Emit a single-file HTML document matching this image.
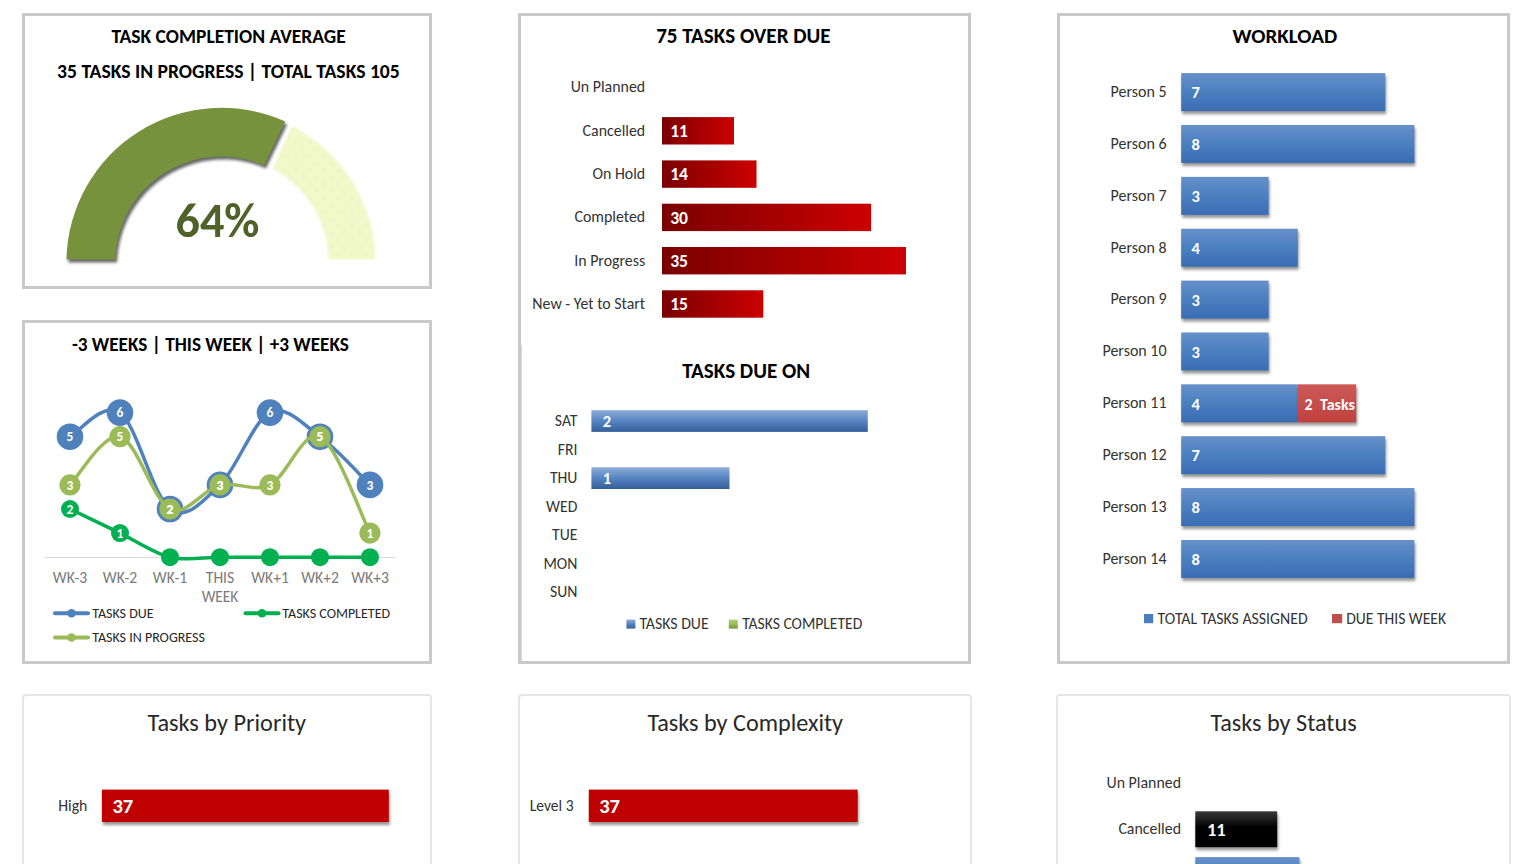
<!DOCTYPE html>
<html><head><meta charset="utf-8"><title>Task Dashboard</title>
<style>
html,body{margin:0;padding:0;background:#fff;width:1536px;height:864px;overflow:hidden}
svg{display:block}
text{font-family:Carlito, 'Liberation Sans', sans-serif}
</style></head><body>
<svg width="1536" height="864" viewBox="0 0 1536 864">
<defs>
<pattern id="dots" x="0" y="0" width="14" height="14" patternUnits="userSpaceOnUse">
 <circle cx="2" cy="2" r="0.6" fill="#c9cf9e"/><circle cx="9" cy="9" r="0.6" fill="#c9cf9e"/>
</pattern>
<linearGradient id="gred" x1="0" y1="0" x2="1" y2="0">
 <stop offset="0" stop-color="#7a0000"/><stop offset="0.15" stop-color="#870000"/><stop offset="1" stop-color="#cc0000"/>
</linearGradient>
<linearGradient id="gblue" x1="0" y1="0" x2="0" y2="1">
 <stop offset="0" stop-color="#6790c9"/><stop offset="0.5" stop-color="#4a7fc0"/><stop offset="1" stop-color="#3a6cb3"/>
</linearGradient>
<linearGradient id="gblue2" x1="0" y1="0" x2="0" y2="1">
 <stop offset="0" stop-color="#8dacd8"/><stop offset="0.5" stop-color="#5584c2"/><stop offset="1" stop-color="#355f9a"/>
</linearGradient>
<linearGradient id="ggreen2" x1="0" y1="0" x2="0" y2="1">
 <stop offset="0" stop-color="#b5cf80"/><stop offset="0.5" stop-color="#9bbb59"/><stop offset="1" stop-color="#76933c"/>
</linearGradient>
<linearGradient id="gred2" x1="0" y1="0" x2="0" y2="1">
 <stop offset="0" stop-color="#cb5a57"/><stop offset="1" stop-color="#c0413e"/>
</linearGradient>
<linearGradient id="gblack" x1="0" y1="0" x2="0" y2="1">
 <stop offset="0" stop-color="#3a3a3a"/><stop offset="0.45" stop-color="#000"/><stop offset="1" stop-color="#000"/>
</linearGradient>
<filter id="soft" x="-5%" y="-5%" width="110%" height="110%"><feGaussianBlur stdDeviation="0.8"/></filter>
<filter id="sh1" x="-10%" y="-10%" width="125%" height="125%" color-interpolation-filters="sRGB">
 <feGaussianBlur in="SourceAlpha" stdDeviation="1.8"/><feOffset dx="1.5" dy="2.5" result="b"/>
 <feComponentTransfer><feFuncA type="linear" slope="0.6"/></feComponentTransfer>
 <feMerge><feMergeNode/><feMergeNode in="SourceGraphic"/></feMerge>
</filter>
<filter id="sh2" x="-10%" y="-20%" width="125%" height="160%" color-interpolation-filters="sRGB">
 <feGaussianBlur in="SourceAlpha" stdDeviation="1.8"/><feOffset dx="1" dy="2.5" result="b"/>
 <feComponentTransfer><feFuncA type="linear" slope="0.42"/></feComponentTransfer>
 <feMerge><feMergeNode/><feMergeNode in="SourceGraphic"/></feMerge>
</filter>
</defs>
<rect x="23.5" y="14.5" width="407" height="273" fill="#fff" stroke="#c9c9c9" stroke-width="3"/>
<rect x="23.5" y="321.5" width="407" height="341" fill="#fff" stroke="#c9c9c9" stroke-width="3"/>
<rect x="519.5" y="14.5" width="450" height="648" fill="#fff" stroke="#c9c9c9" stroke-width="3"/>
<rect x="521" y="345" width="1" height="316" fill="#d6d6d6"/>
<rect x="1058.5" y="14.5" width="450" height="648" fill="#fff" stroke="#c9c9c9" stroke-width="3"/>
<rect x="23" y="695" width="408" height="304" rx="3" fill="#fff" stroke="#e6e6e6" stroke-width="2"/>
<rect x="519" y="695" width="452" height="304" rx="3" fill="#fff" stroke="#e6e6e6" stroke-width="2"/>
<rect x="1057" y="695" width="453" height="304" rx="3" fill="#fff" stroke="#e6e6e6" stroke-width="2"/>
<g filter="url(#soft)"><path d="M292.03,125.95 A154,154 0 0 1 375.36,259.5 L328.65,259.5 A107.3,107.3 0 0 0 272.27,168.32 Z" fill="#f1f8c9"/><path d="M292.03,125.95 A154,154 0 0 1 375.36,259.5 L328.65,259.5 A107.3,107.3 0 0 0 272.27,168.32 Z" fill="url(#dots)"/></g>
<path d="M66.44,259.5 A155,155 0 0 1 285.18,121.53 L263.96,165.39 A106.3,106.3 0 0 0 115.15,259.5 Z" fill="#76923c" filter="url(#sh1)"/>
<line x1="45" y1="557.5" x2="395" y2="557.5" stroke="#d9d9d9" stroke-width="1"/>
<path d="M70,436.7 C78.33,432.68 103.33,400.55 120,412.6 C136.67,424.65 153.33,496.95 170,509 C186.67,521.05 203.33,500.97 220,484.9 C236.67,468.83 253.33,420.63 270,412.6 C286.67,404.57 303.33,424.65 320,436.7 C336.67,448.75 361.67,476.87 370,484.9" fill="none" stroke="#4f81bd" stroke-width="3.5" stroke-linecap="round" stroke-linejoin="round"/>
<circle cx="70" cy="436.7" r="13.3" fill="#4f81bd"/>
<circle cx="120" cy="412.6" r="13.3" fill="#4f81bd"/>
<circle cx="170" cy="509" r="13.3" fill="#4f81bd"/>
<circle cx="220" cy="484.9" r="13.3" fill="#4f81bd"/>
<circle cx="270" cy="412.6" r="13.3" fill="#4f81bd"/>
<circle cx="320" cy="436.7" r="13.3" fill="#4f81bd"/>
<circle cx="370" cy="484.9" r="13.3" fill="#4f81bd"/>
<path d="M70,484.9 C78.33,476.87 103.33,432.68 120,436.7 C136.67,440.72 153.33,500.97 170,509 C186.67,517.03 203.33,488.92 220,484.9 C236.67,480.88 253.33,492.93 270,484.9 C286.67,476.87 303.33,428.67 320,436.7 C336.67,444.73 361.67,517.03 370,533.1" fill="none" stroke="#9bbb59" stroke-width="3.5" stroke-linecap="round" stroke-linejoin="round"/>
<circle cx="70" cy="484.9" r="10.6" fill="#9bbb59"/>
<circle cx="120" cy="436.7" r="10.6" fill="#9bbb59"/>
<circle cx="170" cy="509" r="10.6" fill="#9bbb59"/>
<circle cx="220" cy="484.9" r="10.6" fill="#9bbb59"/>
<circle cx="270" cy="484.9" r="10.6" fill="#9bbb59"/>
<circle cx="320" cy="436.7" r="10.6" fill="#9bbb59"/>
<circle cx="370" cy="533.1" r="10.6" fill="#9bbb59"/>
<path d="M70,509 C78.33,513.02 103.33,525.07 120,533.1 C136.67,541.13 153.33,553.18 170,557.2 C186.67,561.22 203.33,557.2 220,557.2 C236.67,557.2 253.33,557.2 270,557.2 C286.67,557.2 303.33,557.2 320,557.2 C336.67,557.2 361.67,557.2 370,557.2" fill="none" stroke="#00b050" stroke-width="3.5" stroke-linecap="round" stroke-linejoin="round"/>
<circle cx="70" cy="509" r="9" fill="#00b050"/>
<circle cx="120" cy="533.1" r="9" fill="#00b050"/>
<circle cx="170" cy="557.2" r="9" fill="#00b050"/>
<circle cx="220" cy="557.2" r="9" fill="#00b050"/>
<circle cx="270" cy="557.2" r="9" fill="#00b050"/>
<circle cx="320" cy="557.2" r="9" fill="#00b050"/>
<circle cx="370" cy="557.2" r="9" fill="#00b050"/>
<line x1="55" y1="613.2" x2="88" y2="613.2" stroke="#4f81bd" stroke-width="4" stroke-linecap="round"/>
<circle cx="71.5" cy="613.2" r="4.3" fill="#4f81bd"/>
<line x1="245.5" y1="613.2" x2="278.5" y2="613.2" stroke="#00b050" stroke-width="4" stroke-linecap="round"/>
<circle cx="262.0" cy="613.2" r="4.3" fill="#00b050"/>
<line x1="55" y1="637.5" x2="88" y2="637.5" stroke="#9bbb59" stroke-width="4" stroke-linecap="round"/>
<circle cx="71.5" cy="637.5" r="4.3" fill="#9bbb59"/>
<rect x="662" y="117.1" width="72" height="27.4" fill="url(#gred)"/>
<rect x="662" y="160.4" width="94.5" height="27.4" fill="url(#gred)"/>
<rect x="662" y="203.7" width="209.1" height="27.4" fill="url(#gred)"/>
<rect x="662" y="247" width="244" height="27.4" fill="url(#gred)"/>
<rect x="662" y="290.3" width="101.3" height="27.4" fill="url(#gred)"/>
<rect x="591.4" y="410.2" width="276.4" height="21.7" fill="url(#gblue2)"/>
<rect x="591.4" y="467.3" width="138.1" height="21.7" fill="url(#gblue2)"/>
<rect x="626.4" y="619.6" width="9" height="9" fill="url(#gblue2)"/>
<rect x="728.8" y="619.6" width="9" height="9" fill="url(#ggreen2)"/>
<rect x="1181.2" y="73.1" width="204.05" height="38" fill="url(#gblue)" filter="url(#sh2)"/>
<rect x="1181.2" y="124.97" width="233.2" height="38" fill="url(#gblue)" filter="url(#sh2)"/>
<rect x="1181.2" y="176.84" width="87.45" height="38" fill="url(#gblue)" filter="url(#sh2)"/>
<rect x="1181.2" y="228.71" width="116.6" height="38" fill="url(#gblue)" filter="url(#sh2)"/>
<rect x="1181.2" y="280.58" width="87.45" height="38" fill="url(#gblue)" filter="url(#sh2)"/>
<rect x="1181.2" y="332.45" width="87.45" height="38" fill="url(#gblue)" filter="url(#sh2)"/>
<rect x="1181.2" y="384.32" width="116.6" height="38" fill="url(#gblue)" filter="url(#sh2)"/>
<rect x="1297.7" y="384.32" width="58.5" height="38" fill="url(#gred2)" filter="url(#sh2)"/>
<rect x="1181.2" y="436.19" width="204.05" height="38" fill="url(#gblue)" filter="url(#sh2)"/>
<rect x="1181.2" y="488.06" width="233.2" height="38" fill="url(#gblue)" filter="url(#sh2)"/>
<rect x="1181.2" y="539.93" width="233.2" height="38" fill="url(#gblue)" filter="url(#sh2)"/>
<rect x="1144" y="614" width="9.2" height="9.2" fill="#4a7ebf"/>
<rect x="1332" y="614" width="10.2" height="9.2" fill="#c0504d"/>
<rect x="101.9" y="789.6" width="286.9" height="32.4" fill="#c00000" filter="url(#sh2)"/>
<rect x="588.8" y="789.6" width="268.9" height="32.4" fill="#c00000" filter="url(#sh2)"/>
<rect x="1195.3" y="811.3" width="81.9" height="35.9" fill="url(#gblack)" filter="url(#sh2)"/>
<rect x="1195.3" y="857.1" width="104.1" height="40" fill="url(#gblue)" filter="url(#sh2)"/>
<text x="217.5" y="236.5" font-size="48.2" font-weight="700" text-anchor="middle" fill="#4f6228" textLength="83.98" lengthAdjust="spacingAndGlyphs" id="t0">64%</text>
<text x="228.6" y="43.2" font-size="19.5" font-weight="700" text-anchor="middle" fill="#000" textLength="234.42" lengthAdjust="spacingAndGlyphs" id="t1">TASK COMPLETION AVERAGE</text>
<text x="228.4" y="77.6" font-size="19.6" font-weight="700" text-anchor="middle" fill="#000" textLength="342.59" lengthAdjust="spacingAndGlyphs" id="t2">35 TASKS IN PROGRESS | TOTAL TASKS 105</text>
<text x="210.4" y="350.8" font-size="19.2" font-weight="700" text-anchor="middle" fill="#000" textLength="276.94" lengthAdjust="spacingAndGlyphs" id="t3">-3 WEEKS | THIS WEEK | +3 WEEKS</text>
<text x="70" y="441.3" font-size="13.5" font-weight="700" text-anchor="middle" fill="#fff" textLength="6.84" lengthAdjust="spacingAndGlyphs" id="t4">5</text>
<text x="120" y="417.2" font-size="13.5" font-weight="700" text-anchor="middle" fill="#fff" textLength="6.84" lengthAdjust="spacingAndGlyphs" id="t5">6</text>
<text x="170" y="513.6" font-size="13.5" font-weight="700" text-anchor="middle" fill="#fff" textLength="6.84" lengthAdjust="spacingAndGlyphs" id="t6">2</text>
<text x="220" y="489.5" font-size="13.5" font-weight="700" text-anchor="middle" fill="#fff" textLength="6.84" lengthAdjust="spacingAndGlyphs" id="t7">3</text>
<text x="270" y="417.2" font-size="13.5" font-weight="700" text-anchor="middle" fill="#fff" textLength="6.84" lengthAdjust="spacingAndGlyphs" id="t8">6</text>
<text x="320" y="441.3" font-size="13.5" font-weight="700" text-anchor="middle" fill="#fff" textLength="6.84" lengthAdjust="spacingAndGlyphs" id="t9">5</text>
<text x="370" y="489.5" font-size="13.5" font-weight="700" text-anchor="middle" fill="#fff" textLength="6.84" lengthAdjust="spacingAndGlyphs" id="t10">3</text>
<text x="70" y="489.5" font-size="13.5" font-weight="700" text-anchor="middle" fill="#fff" textLength="6.84" lengthAdjust="spacingAndGlyphs" id="t11">3</text>
<text x="120" y="441.3" font-size="13.5" font-weight="700" text-anchor="middle" fill="#fff" textLength="6.84" lengthAdjust="spacingAndGlyphs" id="t12">5</text>
<text x="170" y="513.6" font-size="13.5" font-weight="700" text-anchor="middle" fill="#fff" textLength="6.84" lengthAdjust="spacingAndGlyphs" id="t13">2</text>
<text x="220" y="489.5" font-size="13.5" font-weight="700" text-anchor="middle" fill="#fff" textLength="6.84" lengthAdjust="spacingAndGlyphs" id="t14">3</text>
<text x="270" y="489.5" font-size="13.5" font-weight="700" text-anchor="middle" fill="#fff" textLength="6.84" lengthAdjust="spacingAndGlyphs" id="t15">3</text>
<text x="320" y="441.3" font-size="13.5" font-weight="700" text-anchor="middle" fill="#fff" textLength="6.84" lengthAdjust="spacingAndGlyphs" id="t16">5</text>
<text x="370" y="537.7" font-size="13.5" font-weight="700" text-anchor="middle" fill="#fff" textLength="6.84" lengthAdjust="spacingAndGlyphs" id="t17">1</text>
<text x="70" y="513.6" font-size="13.5" font-weight="700" text-anchor="middle" fill="#fff" textLength="6.84" lengthAdjust="spacingAndGlyphs" id="t18">2</text>
<text x="120" y="537.7" font-size="13.5" font-weight="700" text-anchor="middle" fill="#fff" textLength="6.84" lengthAdjust="spacingAndGlyphs" id="t19">1</text>
<text x="70" y="582.7" font-size="15.6" text-anchor="middle" fill="#7a7a7a" textLength="34.41" lengthAdjust="spacingAndGlyphs" id="t20">WK-3</text>
<text x="120" y="582.7" font-size="15.6" text-anchor="middle" fill="#7a7a7a" textLength="34.41" lengthAdjust="spacingAndGlyphs" id="t21">WK-2</text>
<text x="170" y="582.7" font-size="15.6" text-anchor="middle" fill="#7a7a7a" textLength="34.41" lengthAdjust="spacingAndGlyphs" id="t22">WK-1</text>
<text x="220" y="582.7" font-size="15.6" text-anchor="middle" fill="#7a7a7a" textLength="28.42" lengthAdjust="spacingAndGlyphs" id="t23">THIS</text>
<text x="270" y="582.7" font-size="15.6" text-anchor="middle" fill="#7a7a7a" textLength="37.66" lengthAdjust="spacingAndGlyphs" id="t24">WK+1</text>
<text x="320" y="582.7" font-size="15.6" text-anchor="middle" fill="#7a7a7a" textLength="37.66" lengthAdjust="spacingAndGlyphs" id="t25">WK+2</text>
<text x="370" y="582.7" font-size="15.6" text-anchor="middle" fill="#7a7a7a" textLength="37.66" lengthAdjust="spacingAndGlyphs" id="t26">WK+3</text>
<text x="220" y="601.7" font-size="15.4" text-anchor="middle" fill="#7a7a7a" textLength="36.72" lengthAdjust="spacingAndGlyphs" id="t27">WEEK</text>
<text x="92.2" y="617.6" font-size="14.0" fill="#262626" textLength="61.45" lengthAdjust="spacingAndGlyphs" id="t28">TASKS DUE</text>
<text x="282.3" y="617.6" font-size="14.0" fill="#262626" textLength="107.83" lengthAdjust="spacingAndGlyphs" id="t29">TASKS COMPLETED</text>
<text x="92.2" y="641.8" font-size="14.0" fill="#262626" textLength="112.72" lengthAdjust="spacingAndGlyphs" id="t30">TASKS IN PROGRESS</text>
<text x="743.4" y="42.8" font-size="21.1" font-weight="700" text-anchor="middle" fill="#000" textLength="174.48" lengthAdjust="spacingAndGlyphs" id="t31">75 TASKS OVER DUE</text>
<text x="645.2" y="92.4" font-size="15.9" text-anchor="end" fill="#333" textLength="74.56" lengthAdjust="spacingAndGlyphs" id="t32">Un Planned</text>
<text x="645.2" y="135.7" font-size="15.9" text-anchor="end" fill="#333" textLength="62.61" lengthAdjust="spacingAndGlyphs" id="t33">Cancelled</text>
<text x="670.2" y="136.9" font-size="17.6" font-weight="700" fill="#fff" textLength="17.84" lengthAdjust="spacingAndGlyphs" id="t34">11</text>
<text x="645.2" y="179" font-size="15.9" text-anchor="end" fill="#333" textLength="52.75" lengthAdjust="spacingAndGlyphs" id="t35">On Hold</text>
<text x="670.2" y="180.2" font-size="17.6" font-weight="700" fill="#fff" textLength="17.84" lengthAdjust="spacingAndGlyphs" id="t36">14</text>
<text x="645.2" y="222.3" font-size="15.9" text-anchor="end" fill="#333" textLength="70.78" lengthAdjust="spacingAndGlyphs" id="t37">Completed</text>
<text x="670.2" y="223.5" font-size="17.6" font-weight="700" fill="#fff" textLength="17.84" lengthAdjust="spacingAndGlyphs" id="t38">30</text>
<text x="645.2" y="265.6" font-size="15.9" text-anchor="end" fill="#333" textLength="70.97" lengthAdjust="spacingAndGlyphs" id="t39">In Progress</text>
<text x="670.2" y="266.8" font-size="17.6" font-weight="700" fill="#fff" textLength="17.84" lengthAdjust="spacingAndGlyphs" id="t40">35</text>
<text x="645.2" y="308.9" font-size="15.9" text-anchor="end" fill="#333" textLength="112.89" lengthAdjust="spacingAndGlyphs" id="t41">New - Yet to Start</text>
<text x="670.2" y="310.1" font-size="17.6" font-weight="700" fill="#fff" textLength="17.84" lengthAdjust="spacingAndGlyphs" id="t42">15</text>
<text x="746.2" y="378.2" font-size="21.1" font-weight="700" text-anchor="middle" fill="#000" textLength="127.95" lengthAdjust="spacingAndGlyphs" id="t43">TASKS DUE ON</text>
<text x="577.4" y="425.95" font-size="15.7" text-anchor="end" fill="#333" textLength="22.59" lengthAdjust="spacingAndGlyphs" id="t44">SAT</text>
<text x="602.8" y="426.65" font-size="16.5" font-weight="700" fill="#fff" textLength="8.38" lengthAdjust="spacingAndGlyphs" id="t45">2</text>
<text x="577.4" y="454.5" font-size="15.7" text-anchor="end" fill="#333" textLength="19.69" lengthAdjust="spacingAndGlyphs" id="t46">FRI</text>
<text x="577.4" y="483.05" font-size="15.7" text-anchor="end" fill="#333" textLength="27.48" lengthAdjust="spacingAndGlyphs" id="t47">THU</text>
<text x="602.8" y="483.75" font-size="16.5" font-weight="700" fill="#fff" textLength="8.38" lengthAdjust="spacingAndGlyphs" id="t48">1</text>
<text x="577.4" y="511.6" font-size="15.7" text-anchor="end" fill="#333" textLength="31.28" lengthAdjust="spacingAndGlyphs" id="t49">WED</text>
<text x="577.4" y="540.15" font-size="15.7" text-anchor="end" fill="#333" textLength="25.38" lengthAdjust="spacingAndGlyphs" id="t50">TUE</text>
<text x="577.4" y="568.7" font-size="15.7" text-anchor="end" fill="#333" textLength="33.94" lengthAdjust="spacingAndGlyphs" id="t51">MON</text>
<text x="577.4" y="597.25" font-size="15.7" text-anchor="end" fill="#333" textLength="27.41" lengthAdjust="spacingAndGlyphs" id="t52">SUN</text>
<text x="639.4" y="629" font-size="15.8" fill="#333" textLength="69.33" lengthAdjust="spacingAndGlyphs" id="t53">TASKS DUE</text>
<text x="742.2" y="629" font-size="15.6" fill="#333" textLength="120.09" lengthAdjust="spacingAndGlyphs" id="t54">TASKS COMPLETED</text>
<text x="1284.8" y="42.7" font-size="21.0" font-weight="700" text-anchor="middle" fill="#000" textLength="104.67" lengthAdjust="spacingAndGlyphs" id="t55">WORKLOAD</text>
<text x="1166.6" y="97" font-size="16.0" text-anchor="end" fill="#333" textLength="56.05" lengthAdjust="spacingAndGlyphs" id="t56">Person 5</text>
<text x="1191.6" y="98.3" font-size="16.5" font-weight="700" fill="#fff" textLength="8.38" lengthAdjust="spacingAndGlyphs" id="t57">7</text>
<text x="1166.6" y="148.87" font-size="16.0" text-anchor="end" fill="#333" textLength="56.05" lengthAdjust="spacingAndGlyphs" id="t58">Person 6</text>
<text x="1191.6" y="150.17" font-size="16.5" font-weight="700" fill="#fff" textLength="8.38" lengthAdjust="spacingAndGlyphs" id="t59">8</text>
<text x="1166.6" y="200.74" font-size="16.0" text-anchor="end" fill="#333" textLength="56.05" lengthAdjust="spacingAndGlyphs" id="t60">Person 7</text>
<text x="1191.6" y="202.04" font-size="16.5" font-weight="700" fill="#fff" textLength="8.38" lengthAdjust="spacingAndGlyphs" id="t61">3</text>
<text x="1166.6" y="252.61" font-size="16.0" text-anchor="end" fill="#333" textLength="56.05" lengthAdjust="spacingAndGlyphs" id="t62">Person 8</text>
<text x="1191.6" y="253.91" font-size="16.5" font-weight="700" fill="#fff" textLength="8.38" lengthAdjust="spacingAndGlyphs" id="t63">4</text>
<text x="1166.6" y="304.48" font-size="16.0" text-anchor="end" fill="#333" textLength="56.05" lengthAdjust="spacingAndGlyphs" id="t64">Person 9</text>
<text x="1191.6" y="305.78" font-size="16.5" font-weight="700" fill="#fff" textLength="8.38" lengthAdjust="spacingAndGlyphs" id="t65">3</text>
<text x="1166.6" y="356.35" font-size="16.0" text-anchor="end" fill="#333" textLength="64.16" lengthAdjust="spacingAndGlyphs" id="t66">Person 10</text>
<text x="1191.6" y="357.65" font-size="16.5" font-weight="700" fill="#fff" textLength="8.38" lengthAdjust="spacingAndGlyphs" id="t67">3</text>
<text x="1166.6" y="408.22" font-size="16.0" text-anchor="end" fill="#333" textLength="64.16" lengthAdjust="spacingAndGlyphs" id="t68">Person 11</text>
<text x="1191.6" y="409.52" font-size="16.5" font-weight="700" fill="#fff" textLength="8.38" lengthAdjust="spacingAndGlyphs" id="t69">4</text>
<text x="1304.6" y="409.52" font-size="16.0" font-weight="700" fill="#fff" textLength="50.27" lengthAdjust="spacingAndGlyphs" xml:space="preserve" id="t70">2  Tasks</text>
<text x="1166.6" y="460.09" font-size="16.0" text-anchor="end" fill="#333" textLength="64.16" lengthAdjust="spacingAndGlyphs" id="t71">Person 12</text>
<text x="1191.6" y="461.39" font-size="16.5" font-weight="700" fill="#fff" textLength="8.38" lengthAdjust="spacingAndGlyphs" id="t72">7</text>
<text x="1166.6" y="511.96" font-size="16.0" text-anchor="end" fill="#333" textLength="64.16" lengthAdjust="spacingAndGlyphs" id="t73">Person 13</text>
<text x="1191.6" y="513.26" font-size="16.5" font-weight="700" fill="#fff" textLength="8.38" lengthAdjust="spacingAndGlyphs" id="t74">8</text>
<text x="1166.6" y="563.83" font-size="16.0" text-anchor="end" fill="#333" textLength="64.16" lengthAdjust="spacingAndGlyphs" id="t75">Person 14</text>
<text x="1191.6" y="565.13" font-size="16.5" font-weight="700" fill="#fff" textLength="8.38" lengthAdjust="spacingAndGlyphs" id="t76">8</text>
<text x="1157.6" y="623.7" font-size="15.8" fill="#333" textLength="150.09" lengthAdjust="spacingAndGlyphs" id="t77">TOTAL TASKS ASSIGNED</text>
<text x="1346.2" y="623.7" font-size="15.6" fill="#333" textLength="99.88" lengthAdjust="spacingAndGlyphs" id="t78">DUE THIS WEEK</text>
<text x="226.8" y="731.4" font-size="24.3" text-anchor="middle" fill="#282828" textLength="158.64" lengthAdjust="spacingAndGlyphs" id="t79">Tasks by Priority</text>
<text x="745.2" y="731.4" font-size="24.2" text-anchor="middle" fill="#282828" textLength="195.62" lengthAdjust="spacingAndGlyphs" id="t80">Tasks by Complexity</text>
<text x="1283.5" y="731.4" font-size="24.2" text-anchor="middle" fill="#282828" textLength="146.20" lengthAdjust="spacingAndGlyphs" id="t81">Tasks by Status</text>
<text x="112.4" y="812.6" font-size="20.6" font-weight="700" fill="#fff" textLength="20.89" lengthAdjust="spacingAndGlyphs" id="t82">37</text>
<text x="87.4" y="810.8" font-size="15.8" text-anchor="end" fill="#333" textLength="29.20" lengthAdjust="spacingAndGlyphs" id="t83">High</text>
<text x="599.2" y="812.6" font-size="20.6" font-weight="700" fill="#fff" textLength="20.89" lengthAdjust="spacingAndGlyphs" id="t84">37</text>
<text x="573.6" y="810.8" font-size="15.6" text-anchor="end" fill="#333" textLength="43.91" lengthAdjust="spacingAndGlyphs" id="t85">Level 3</text>
<text x="1181" y="787.8" font-size="15.9" text-anchor="end" fill="#333" textLength="74.56" lengthAdjust="spacingAndGlyphs" id="t86">Un Planned</text>
<text x="1181" y="834.3" font-size="15.9" text-anchor="end" fill="#333" textLength="62.61" lengthAdjust="spacingAndGlyphs" id="t87">Cancelled</text>
<text x="1206.9" y="835.6" font-size="18.6" font-weight="700" fill="#fff" textLength="18.86" lengthAdjust="spacingAndGlyphs" id="t88">11</text>
</svg>
</body></html>
